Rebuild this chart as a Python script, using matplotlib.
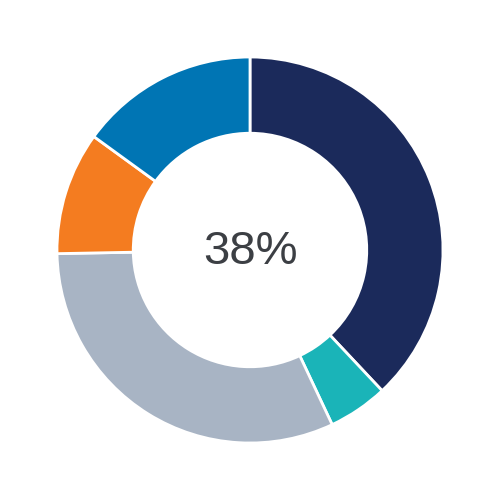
import matplotlib
matplotlib.use("Agg")
import matplotlib.pyplot as plt

labels = ["Navy", "Teal", "Gray", "Orange", "Blue"]
values = [38, 5, 31.7, 10.3, 15]
colors = ["#1b2a5b", "#1ab4b8", "#a8b4c4", "#f47c20", "#0075b4"]
center_text = "38%"

fig = plt.figure(figsize=(5, 5), dpi=100)
ax = fig.add_axes([0, 0, 1, 1])
ax.pie(values, colors=colors, startangle=90, counterclock=False, radius=1.0,
       wedgeprops=dict(width=0.395, edgecolor="white", linewidth=2))
ax.text(0, -0.01, center_text, ha="center", va="center", fontsize=34,
        color="#3c3f44", family="Liberation Sans")
lim = 250 / 193
ax.set_xlim(-lim, lim)
ax.set_ylim(-lim, lim)
ax.set_aspect("equal")
ax.axis("off")
fig.savefig("out.png", dpi=100, facecolor="white")
